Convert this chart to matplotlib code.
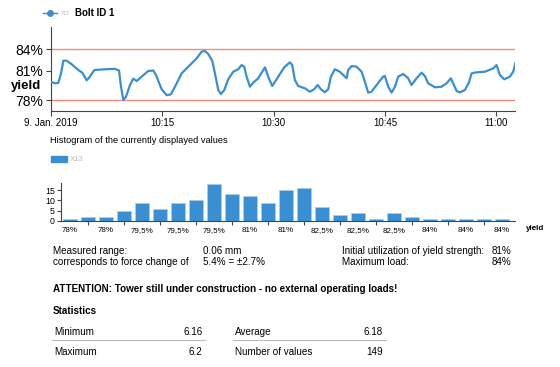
import matplotlib.pyplot as plt

plt.rcParams['font.family'] = ['Liberation Sans', 'DejaVu Sans']

# Zeitreihe: Minuten nach 10:00 und Yield in %
t = [0, 0.54, 0.99, 1.35, 1.66, 2.11, 2.79, 3.68, 4.22, 4.81, 5.16, 5.83, 7.27, 8.62,
     9.16, 9.43, 9.74, 10.10, 10.64, 11.08, 11.54, 12.21, 13.10, 13.77, 14.14, 14.90,
     15.58, 16.16, 16.70, 17.60, 18.95, 19.62, 20.29, 20.74, 21.18, 21.72, 22.08, 22.53,
     22.89, 23.34, 23.87, 24.55, 25.22, 25.68, 26.03, 26.35, 26.80, 27.24, 27.91, 28.82,
     29.26, 29.80, 30.39, 31.41, 32.18, 32.49, 32.85, 33.30, 34.20, 34.87, 35.45, 35.91,
     36.36, 36.89, 37.34, 37.70, 38.24, 38.91, 39.82, 40.03, 40.49, 41.16, 41.84, 42.28,
     42.72, 43.18, 43.86, 44.74, 44.97, 45.42, 45.88, 46.32, 46.77, 47.44, 48.11, 48.57,
     49.24, 49.92, 50.36, 50.80, 51.71, 52.61, 53.28, 53.86, 54.17, 54.63, 55.07, 55.75,
     56.28, 56.65, 57.19, 58.44, 59.56, 60.01, 60.46, 61.04, 61.81, 62.26, 62.57]
yld = [80.19, 80.0, 80.05, 81.17, 82.66, 82.66, 82.24, 81.56, 81.25, 80.35, 80.7, 81.56,
       81.65, 81.7, 81.5, 79.6, 78.03, 78.42, 79.8, 80.54, 80.27, 80.78, 81.45, 81.5,
       80.98, 79.3, 78.6, 78.7, 79.6, 81.17, 82.35, 82.94, 83.72, 83.8, 83.45, 82.66,
       81.17, 79.21, 78.74, 79.21, 80.47, 81.36, 81.65, 82.15, 81.95, 80.78, 79.6, 80.07,
       80.59, 81.88, 80.78, 79.68, 80.47, 81.88, 82.47, 82.15, 80.39, 79.68, 79.41, 79.01,
       79.3, 79.8, 79.3, 78.94, 79.3, 80.78, 81.65, 81.36, 80.59, 81.56, 82.03, 81.95,
       81.36, 80.2, 78.9, 79.01, 79.8, 80.78, 80.86, 79.6, 78.9, 79.6, 80.78, 81.1, 80.59,
       79.8, 80.59, 81.25, 80.86, 80.0, 79.53, 79.6, 80.0, 80.59, 80.0, 79.09, 78.94,
       79.21, 80.07, 81.17, 81.28, 81.36, 81.75, 82.15, 80.98, 80.47, 80.78, 81.36, 82.43]
limits = [78, 84]
time_ticks = [0, 15, 30, 45, 60]
time_labels = ['9. Jan. 2019', '10:15', '10:30', '10:45', '11:00']

# Histogramm
counts = [1, 2, 2, 5, 9, 6, 9, 10, 18, 13, 12, 9, 15, 16, 7, 3, 4, 1, 4, 2, 1, 1, 1, 1, 1]
bin_labels = ['78%', '78%', '79,5%', '79,5%', '79,5%', '81%', '81%', '82,5%', '82,5%',
              '82,5%', '84%', '84%', '84%']

blue = '#3a8fd3'
W, H = 560, 367


def px(x, y):
    return x / W, 1 - y / H


fig = plt.figure(figsize=(5.6, 3.67), dpi=100)

# --- Verlauf ---
ax = fig.add_axes([51 / W, 1 - 111 / H, 464 / W, 84.3 / H])
ax.plot(t, yld, color=blue, lw=1.6, solid_joinstyle='round', zorder=3)
for lim in limits:
    ax.axhline(lim, color='#f08c7c', lw=1)
ax.set_xlim(0, 62.5)
ax.set_ylim(76.74, 86.66)
ax.set_yticks([78, 81.45, 84])
ax.set_yticklabels(['78%', '81%', '84%'], fontsize=10)
ax.set_xticks(time_ticks)
ax.set_xticklabels(time_labels, fontsize=7)
for s in ['top', 'right']:
    ax.spines[s].set_visible(False)
for s in ['left', 'bottom']:
    ax.spines[s].set_color('#444444')
    ax.spines[s].set_linewidth(0.8)
ax.tick_params(length=3.5, width=0.8, color='#444444', pad=2)
ax.tick_params(axis='x', pad=1.5)
fig.text(*px(41, 86), 'yield', fontsize=9.5, fontweight='bold', ha='right', va='center')

# Legende oben
fig.lines.append(plt.Line2D([42.7 / W, 56.7 / W], [1 - 13.3 / H] * 2, color=blue, lw=1,
                            marker=None, transform=fig.transFigure))
fig.lines.append(plt.Line2D([50 / W], [1 - 13.3 / H], color=blue, marker='o', ms=4,
                            transform=fig.transFigure))
fig.text(*px(60.5, 13.5), 'X13', fontsize=3.5, color='#bbbbbb', va='center')
fig.text(*px(75, 13.3), 'Bolt ID 1', fontsize=7, fontweight='bold', va='center')

# --- Histogramm ---
fig.text(*px(50, 140), 'Histogram of the currently displayed values', fontsize=6.7,
         va='center')
fig.patches.append(plt.Rectangle(px(51, 162.5), 16 / W, 7 / H, color=blue,
                                 transform=fig.transFigure))
fig.text(*px(70, 159), 'X13', fontsize=5.5, color='#bbbbbb', va='center')

hx = fig.add_axes([61 / W, 1 - 221 / H, 454 / W, 38 / H])
pos = list(range(len(counts)))
hx.bar(pos, counts, width=0.82, color=blue, edgecolor='#a9cdee', linewidth=0.6)
hx.set_xlim(-0.5, 24.72)
hx.set_ylim(0, 18.5)
hx.set_yticks([0, 5, 10, 15])
hx.set_xticks(pos[::2])
hx.set_xticklabels(bin_labels, fontsize=5.8)
hx.set_xticks(pos[1::2], minor=True)
hx.tick_params(axis='x', which='major', length=0, pad=4)
hx.tick_params(axis='x', which='minor', length=3, width=0.8, color='#444444')
hx.tick_params(axis='y', labelsize=6.3, length=3, width=0.8, color='#444444', pad=1.5)
for s in ['top', 'right']:
    hx.spines[s].set_visible(False)
for s in ['left', 'bottom']:
    hx.spines[s].set_color('#444444')
    hx.spines[s].set_linewidth(0.8)
fig.text(*px(526, 229), 'yield', fontsize=5.8, fontweight='bold', va='center')

# --- Text unten ---
fs = 7.1
fig.text(*px(52.7, 250.7), 'Measured range:', fontsize=fs, va='center')
fig.text(*px(202.7, 250.7), '0.06 mm', fontsize=fs, va='center')
fig.text(*px(52.7, 261.7), 'corresponds to force change of', fontsize=fs, va='center')
fig.text(*px(202.7, 261.7), '5.4% = ±2.7%', fontsize=fs, va='center')
fig.text(*px(341.7, 250.7), 'Initial utilization of yield strength:', fontsize=fs, va='center')
fig.text(*px(511.7, 250.7), '81%', fontsize=fs, va='center', ha='right')
fig.text(*px(341.7, 261.7), 'Maximum load:', fontsize=fs, va='center')
fig.text(*px(511.7, 261.7), '84%', fontsize=fs, va='center', ha='right')
fig.text(*px(52.7, 289), 'ATTENTION: Tower still under construction - no external operating loads!',
         fontsize=fs, fontweight='bold', va='center')
fig.text(*px(52.7, 311), 'Statistics', fontsize=fs, fontweight='bold', va='center')

fig.text(*px(54.3, 331.7), 'Minimum', fontsize=fs, va='center')
fig.text(*px(202.7, 331.7), '6.16', fontsize=fs, va='center', ha='right')
fig.text(*px(235, 331.7), 'Average', fontsize=fs, va='center')
fig.text(*px(382.7, 331.7), '6.18', fontsize=fs, va='center', ha='right')
fig.text(*px(54.3, 351.7), 'Maximum', fontsize=fs, va='center')
fig.text(*px(202.7, 351.7), '6.2', fontsize=fs, va='center', ha='right')
fig.text(*px(235, 351.7), 'Number of values', fontsize=fs, va='center')
fig.text(*px(382.7, 351.7), '149', fontsize=fs, va='center', ha='right')
for x0, x1 in [(51.7, 205), (233.3, 386)]:
    fig.lines.append(plt.Line2D([x0 / W, x1 / W], [1 - 340.3 / H] * 2, color='#bbbbbb',
                                lw=0.8, transform=fig.transFigure))

fig.savefig('out.png', dpi=100)
